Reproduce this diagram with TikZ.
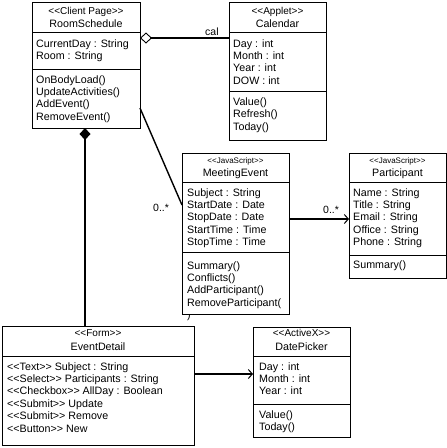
\documentclass[tikz,border=0pt]{standalone}
\usepackage{fontspec}
\setmainfont{Liberation Sans}
\usetikzlibrary{arrows.meta}
\newcommand\umllines[4]{%
  \foreach \t [count=\i from 0] in {#4} {\node[txt] (#1\i) at (#2, #3+12.4*\i) {\t};}}
\newcommand\sto[1]{<{}<#1>{}>}
\begin{document}
\begin{tikzpicture}[x=1pt,y=-1pt,
  box/.style={draw, line width=0.9pt, anchor=north west, inner sep=0pt, outer sep=0pt},
  txt/.style={inner sep=0pt, anchor=base west, font=\fontsize{10.7}{12.5}\selectfont},
  ster/.style={inner sep=0pt, anchor=base, font=\fontsize{10}{12}\selectfont},
  jster/.style={ster, font=\fontsize{8}{10}\selectfont},
  cname/.style={inner sep=0pt, anchor=base, font=\fontsize{10.7}{12.5}\selectfont},
  sep/.style={line width=0.9pt},
  conn/.style={line width=1.8pt},
  lbl/.style={inner sep=0pt, anchor=base west, font=\fontsize{10.5}{12.5}\selectfont}
]
\useasboundingbox (0,0) rectangle (447,448);

% RoomSchedule
\node[box, minimum width=108pt, minimum height=126pt] (rs) at (32,2) {};
\node[ster] (rss) at (86,14) {\sto{Client Page}};
\node[cname] (rsn) at (86,27) {RoomSchedule};
\draw[sep] (rs.west |- 0,32) -- (rs.east |- 0,32);
\draw[sep] (rs.west |- 0,69) -- (rs.east |- 0,69);
\umllines{rsa}{36}{47}{CurrentDay : String,Room : String}
\umllines{rsm}{36}{83}{OnBodyLoad(),UpdateActivities(),AddEvent(),RemoveEvent()}

% Calendar
\node[box, minimum width=97pt, minimum height=138pt] (cal) at (229,2) {};
\node[ster] (cals) at (277.5,14) {\sto{Applet}};
\node[cname] (caln) at (277.5,27) {Calendar};
\draw[sep] (cal.west |- 0,32) -- (cal.east |- 0,32);
\draw[sep] (cal.west |- 0,91) -- (cal.east |- 0,91);
\umllines{cala}{233}{47}{Day : int,Month : int,Year : int,DOW : int}
\umllines{calm}{233}{105.5}{Value(),Refresh(),Today()}

% MeetingEvent
\node[box, minimum width=107pt, minimum height=161pt] (me) at (182,153) {};
\node[jster] (mes) at (235.5,163) {\sto{JavaScript}};
\node[cname] (men) at (235.5,176) {MeetingEvent};
\draw[sep] (me.west |- 0,182) -- (me.east |- 0,182);
\draw[sep] (me.west |- 0,252) -- (me.east |- 0,252);
\umllines{mea}{187}{196}{Subject : String,StartDate : Date,StopDate : Date,StartTime : Time,StopTime : Time}
\umllines{mem}{187}{269}{Summary(),Conflicts(),AddParticipant(),RemoveParticipant(}
\begin{scope}
\clip (182,314.6) rectangle (200,330);
\node[txt] (mex) at (187,318.5) {)};
\end{scope}

% Participant
\node[box, minimum width=97pt, minimum height=125pt] (pa) at (349,153) {};
\node[jster] (pas) at (397.5,163) {\sto{JavaScript}};
\node[cname] (pan) at (397.5,176) {Participant};
\draw[sep] (pa.west |- 0,182) -- (pa.east |- 0,182);
\draw[sep] (pa.west |- 0,255) -- (pa.east |- 0,255);
\umllines{paa}{353}{196}{Name : String,Title : String,Email : String,Office : String,Phone : String}
\umllines{pam}{353}{268}{Summary()}

% EventDetail
\node[box, minimum width=192pt, minimum height=119pt] (ed) at (2,326) {};
\node[ster] (eds) at (98,336) {\sto{Form}};
\node[cname] (edn) at (98,350) {EventDetail};
\draw[sep] (ed.west |- 0,356) -- (ed.east |- 0,356);
\umllines{eda}{7}{370}{\sto{Text} Subject : String,\sto{Select} Participants : String,\sto{Checkbox} AllDay : Boolean,\sto{Submit} Update,\sto{Submit} Remove,\sto{Button} New}

% DatePicker
\node[box, minimum width=97pt, minimum height=110pt] (dp) at (253,327) {};
\node[ster] (dps) at (301.5,336) {\sto{ActiveX}};
\node[cname] (dpn) at (301.5,350) {DatePicker};
\draw[sep] (dp.west |- 0,356) -- (dp.east |- 0,356);
\draw[sep] (dp.west |- 0,404) -- (dp.east |- 0,404);
\umllines{dpa}{259}{370}{Day : int,Month : int,Year : int}
\umllines{dpm}{259}{418}{Value(),Today()}

% connectors
\draw[conn, {Diamond[open, line width=0.9pt, length=12pt, width=11pt]}-] (rs.east |- 0,38) -- (cal.west |- 0,38);
\node[lbl] (lcal) at (205,35) {cal};
\draw[conn, {Diamond[length=12pt, width=11pt]}-] (rs.south -| 85,0) -- (ed.north -| 85,0);
\draw[line width=1.4pt] (rs.east |- 0,108) -- (me.west |- 0,205);
\node[lbl] (lme) at (153,211.5) {0..*};
\draw[conn, -{Straight Barb[length=4pt, width=9pt, line width=1pt]}] (me.east |- 0,219) -- (pa.west |- 0,219);
\node[lbl] (lpa) at (323,213) {0..*};
\draw[conn, -{Straight Barb[length=4pt, width=9pt, line width=1pt]}] (ed.east |- 0,374) -- (dp.west |- 0,374);
\end{tikzpicture}
\end{document}
